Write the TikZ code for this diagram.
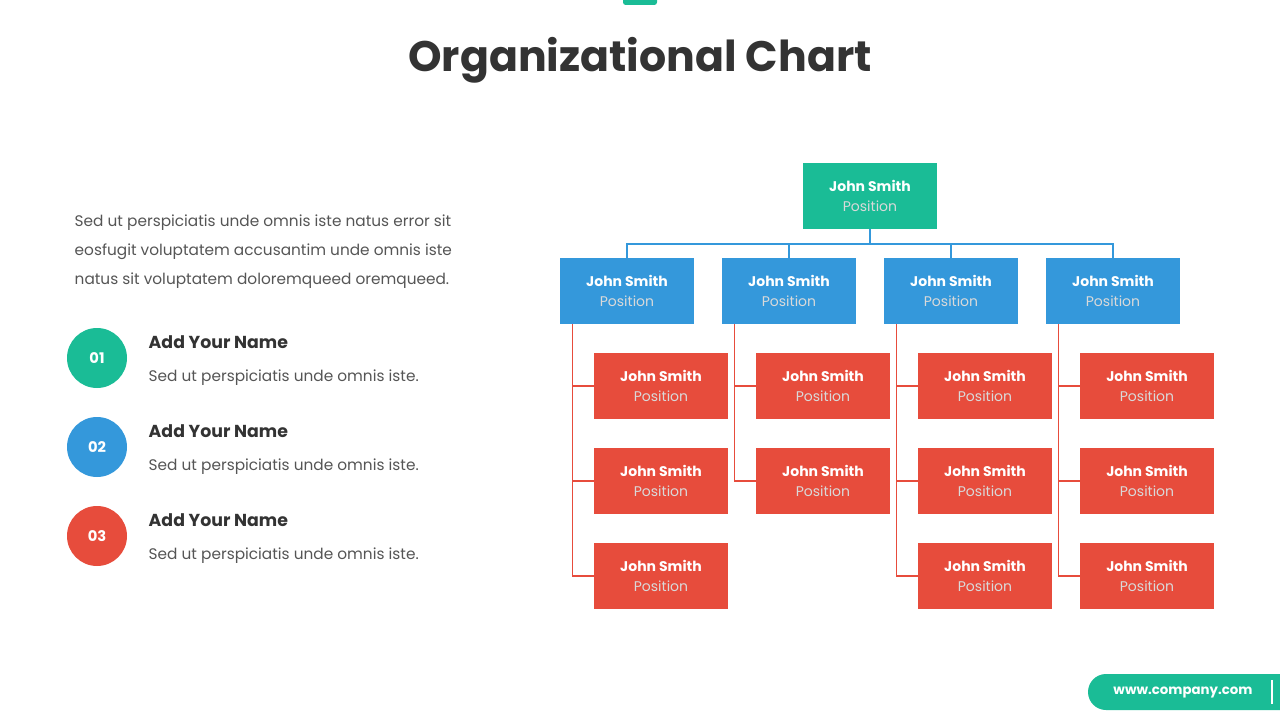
\documentclass[tikz,border=0pt]{standalone}
\usepackage{fontspec}
\setmainfont{Poppins}
\usetikzlibrary{positioning}
\definecolor{tgreen}{HTML}{1ABC96}
\definecolor{tblue}{HTML}{3498DB}
\definecolor{tred}{HTML}{E74C3C}
\definecolor{tdark}{HTML}{333333}
\definecolor{tgray}{HTML}{555555}
\newcommand{\person}{{\bfseries\fontsize{10.5}{12}\selectfont John Smith}\\[3pt]{\fontsize{10.5}{12}\selectfont\color{white!85!black}Position}}
\begin{document}
\begin{tikzpicture}[
	x=0.75pt, y=-0.75pt
	,box/.style={minimum width=100.5pt, minimum height=49.5pt, inner sep=0pt, text=white, align=center}
	,boss/.style={box, fill=tgreen}
	,head/.style={box, fill=tblue}
	,staff/.style={box, fill=tred}
	,bus/.style={tblue, line width=1pt}
	,branch/.style={tred, line width=1pt}
	,dot/.style={circle, minimum size=45pt, inner sep=0pt, text=white, font=\bfseries\fontsize{11}{12}\selectfont}
]
	\useasboundingbox (0,0) rectangle (1280,720);
	\fill[tgreen, rounded corners=2pt] (623,-5) rectangle (657,5);
	\node[text=tdark, font=\bfseries\fontsize{32}{36}\selectfont] (title) at (640,60) {Organizational Chart};

	% left text
	\node[anchor=west, text=tgray, font=\fontsize{11.5}{21.75}\selectfont, align=left] (intro) at (70,252)
		{Sed ut perspiciatis unde omnis iste natus error sit\\eosfugit voluptatem accusantim unde omnis iste\\natus sit voluptatem doloremqueed oremqueed.};
	\foreach \n/\c/\y in {01/tgreen/358, 02/tblue/447, 03/tred/536} {
		\node[dot, fill=\c] (d\n) at (97,\y) {\n};
		\node[anchor=west, text=tdark, font=\bfseries\fontsize{13}{15}\selectfont] (h\n) at (144,\y-16) {Add Your Name};
		\node[anchor=west, text=tgray, font=\fontsize{11.5}{14}\selectfont] (s\n) at (144,\y+20) {Sed ut perspiciatis unde omnis iste.};
	}

	% chart
	\node[boss] (top) at (870,196) {\person};
	\foreach \i/\x in {1/627, 2/789, 3/951, 4/1113} {
		\node[head] (m\i) at (\x,291) {\person};
		\draw[bus] (top.south) -- (870,244) -| (m\i.north);
	}
	\foreach \i/\x/\k in {1/627/3, 2/789/2, 3/951/3, 4/1113/3} {
		\foreach \j in {1,...,\k} {
			\node[staff] (r\i\j) at (\x+34,291+95*\j) {\person};
			\draw[branch] (m\i.south west) ++(13,0) |- (r\i\j.west);
		}
	}

	% footer
	\fill[tgreen, rounded corners=13.5pt] (1088,674) rectangle (1310,710);
	\node[text=white, font=\bfseries\fontsize{10}{12}\selectfont] (url) at (1183,692) {www.company.com};
	\draw[white, line width=1pt] (1272,680) -- (1272,704);
\end{tikzpicture}
\end{document}
